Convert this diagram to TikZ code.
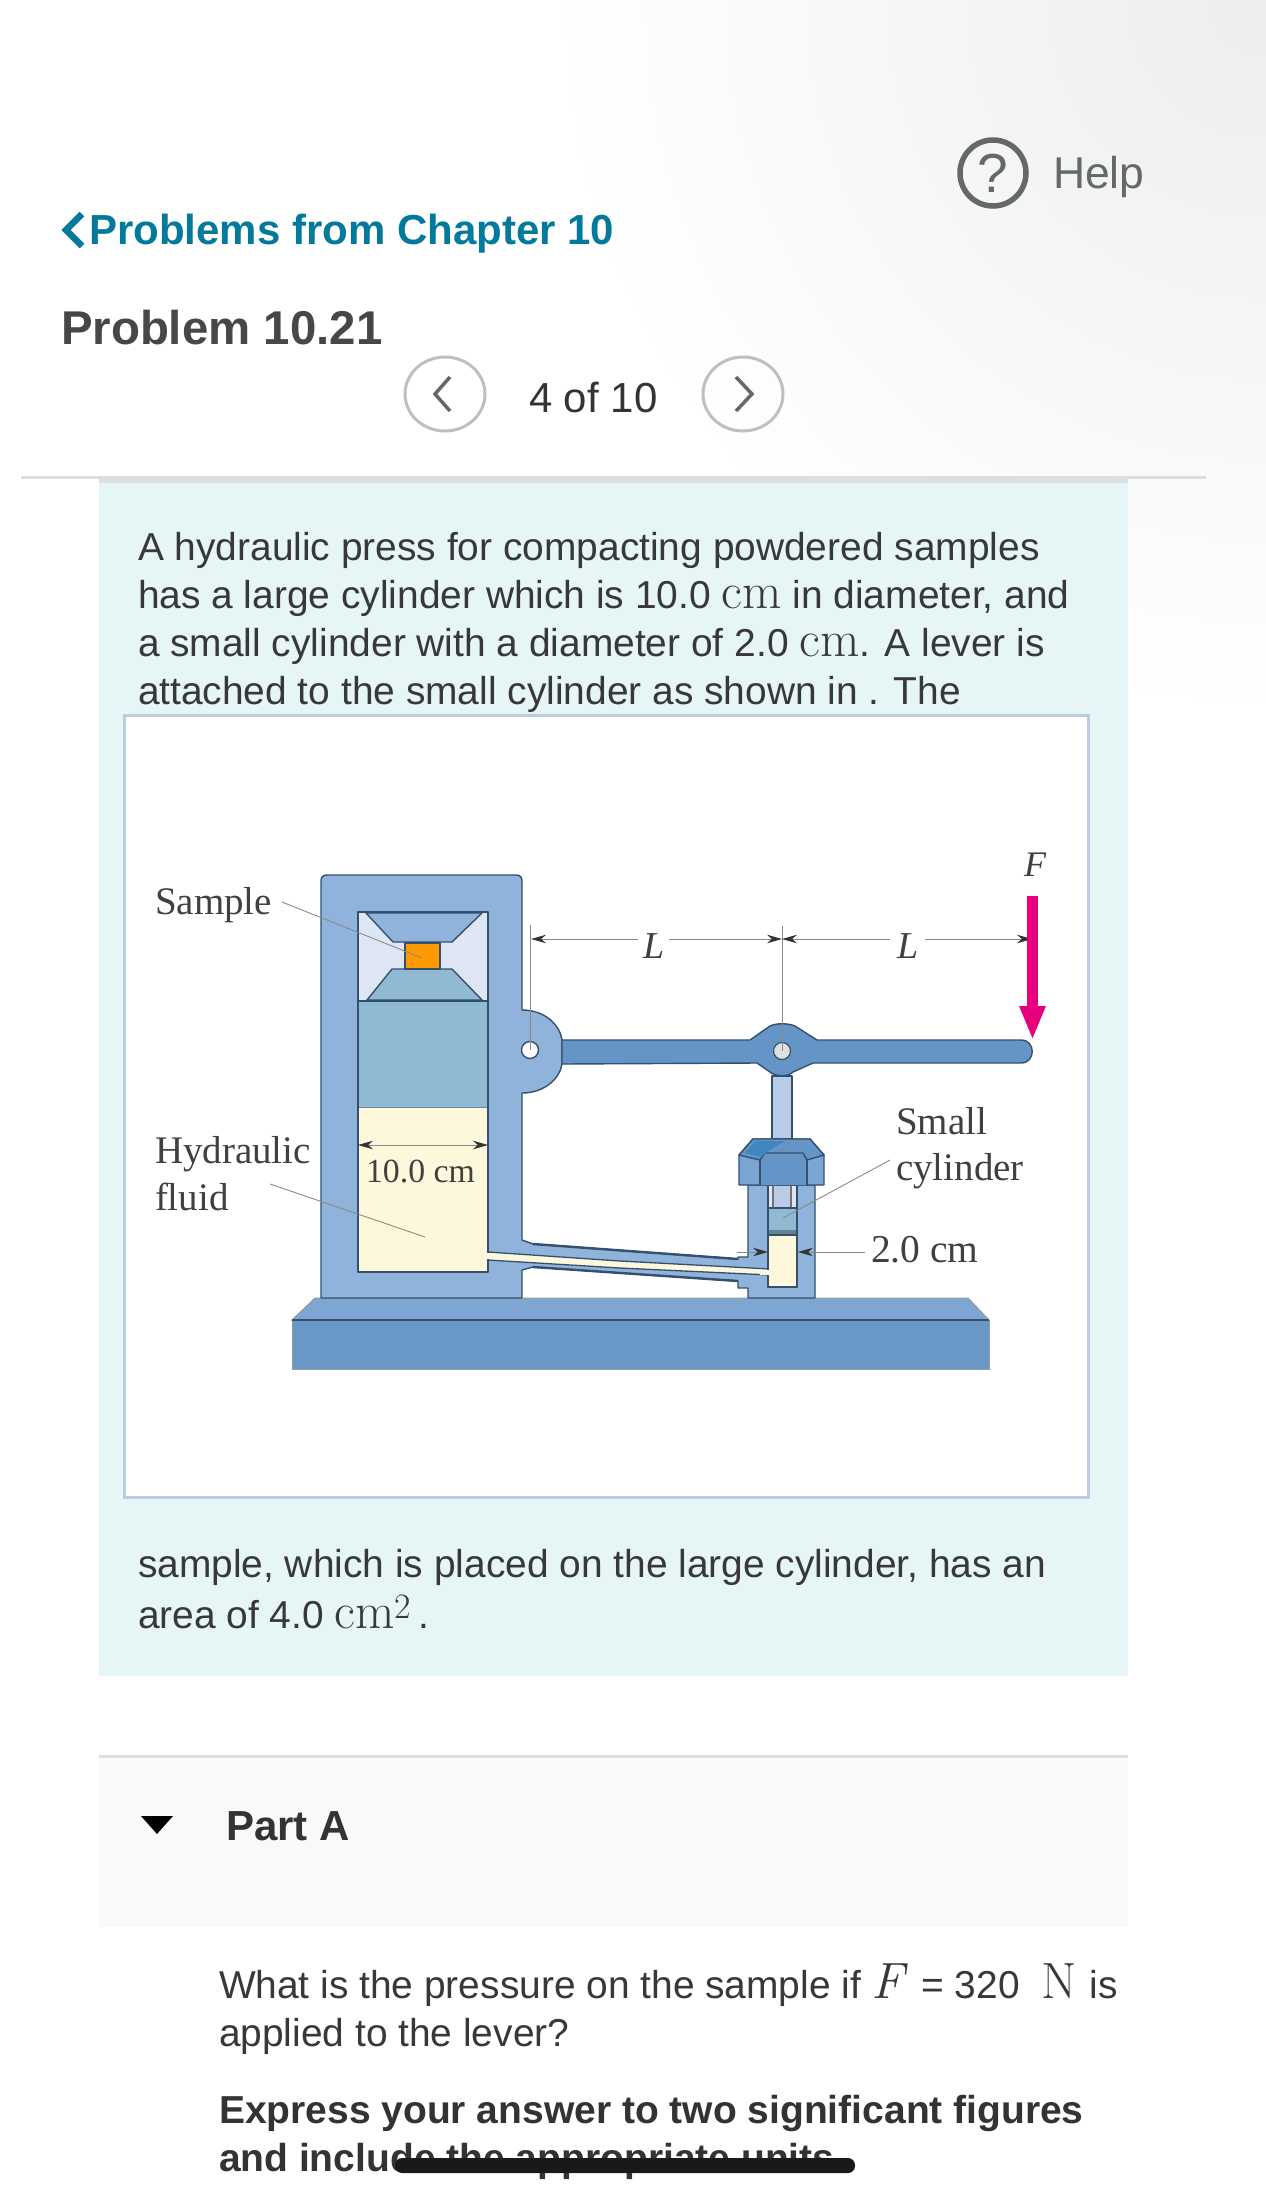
\documentclass[tikz,border=0pt]{standalone}
\usepackage{fontspec}
\usetikzlibrary{arrows.meta,shapes.geometric}
\newfontfamily\sansf{Liberation Sans}
\newfontfamily\serf{Liberation Serif}
\newcommand{\fsz}[1]{\fontsize{#1}{#1}\selectfont}
\newcommand{\lmr}[1]{{\rmfamily\fsz{51}#1}}
\definecolor{panelc}{HTML}{E6F5F5}
\definecolor{rulec}{HTML}{DDDEDF}
\definecolor{framec}{HTML}{8FB3DB}
\definecolor{basec}{HTML}{6A98C6}
\definecolor{basetop}{HTML}{7EA6D2}
\definecolor{leverc}{HTML}{6595C6}
\definecolor{nutside}{HTML}{7BA6D4}
\definecolor{nuttop}{HTML}{3F86BE}
\definecolor{pistonc}{HTML}{8FBAD2}
\definecolor{fluidc}{HTML}{FDF7DC}
\definecolor{palec}{HTML}{DFE6F3}
\definecolor{rodc}{HTML}{B9CBE6}
\definecolor{linec}{HTML}{34506E}
\definecolor{tealc}{HTML}{037A9B}
\definecolor{greyc}{HTML}{63696A}
\definecolor{dimc}{HTML}{8A8A8A}
\definecolor{forcec}{HTML}{E6007E}
\definecolor{imgborder}{HTML}{B9CDE0}
\tikzset{
  txt/.style={anchor=base west,inner sep=0pt,outer sep=0pt,text=black!78,font=\sansf\fsz{38.9}},
  boldtxt/.style={txt,font=\sansf\bfseries\fsz{39},text=black!80},
  lab/.style={anchor=base west,inner sep=0pt,outer sep=0pt,text=black!75,font=\serf\fsz{39}},
  part/.style={draw=linec,line width=1.4pt,line join=round},
  leader/.style={draw=dimc,line width=0.9pt},
  dimline/.style={draw=dimc,line width=1pt},
  dimtip/.style={dimline,-{Stealth[length=15pt,width=8.5pt,color=black!80]}},
  navbtn/.style={draw=black!25,line width=3pt,ellipse,minimum width=80pt,minimum height=74pt,inner sep=0pt},
}
\begin{document}
\begin{tikzpicture}[x=1pt,y=-1pt]
\useasboundingbox (0,0) rectangle (1266,2193);
\fill[white] (0,0) rectangle (1266,2193);
\begin{scope}
\clip (0,0) rectangle (1266,2193);
\shade[inner color=black!7,outer color=white] (1266,0) circle[radius=720];
\end{scope}
% header
\node[txt,font=\sansf\bfseries\fsz{42},text=tealc] (back) at (89,244) {Problems from Chapter 10};
\draw[tealc,line width=6.5pt,line cap=butt] (82,214) -- (66,230) -- (82,246);
\node[boldtxt,font=\sansf\bfseries\fsz{47.4},text=black!72] (ptitle) at (61,344) {Problem 10.21};
\node[txt,font=\sansf\fsz{42},text=black!80] (count) at (529,412) {4 of 10};
\node[navbtn] (prev) at (445,394) {};
\node[navbtn] (next) at (743,394) {};
\draw[greyc,line width=3.5pt] (450,377) -- (435,394) -- (450,411);
\draw[greyc,line width=3.5pt] (736,377) -- (752,394) -- (736,411);
\node[draw=greyc,line width=5.5pt,circle,minimum size=66pt,inner sep=0pt,text=greyc,font=\sansf\fsz{55}] (helpc) at (993,173) {?};
\node[txt,font=\sansf\fsz{44.5},text=greyc] (help) at (1053,188) {Help};
% panel
\fill[panelc] (99,480) rectangle (1128,1676);
\fill[rulec] (21,476) rectangle (1206,479);
\fill[rulec] (99,479) rectangle (1128,483);
\node[txt] (t1) at (138,560) {A hydraulic press for compacting powdered samples};
\node[txt] (t2) at (138,608) {has a large cylinder which is 10.0 \lmr{cm} in diameter, and};
\node[txt] (t3) at (138,656) {a small cylinder with a diameter of 2.0 \lmr{cm}. A lever is};
\node[txt] (t4) at (138,704) {attached to the small cylinder as shown in . The};
\fill[white,draw=imgborder,line width=3pt] (124,715) rectangle (1088,1497);
\node[txt] (t5) at (138,1577) {sample, which is placed on the large cylinder, has an};
\node[txt] (t6) at (138,1628) {area of 4.0 \lmr{cm\textsuperscript{2}}\,.};
% part A
\fill[black!2.5] (99,1756) rectangle (1128,1927);
\fill[rulec] (99,1755) rectangle (1128,1758);
\fill[black] (141,1816) -- (173,1816) -- (157,1834) -- cycle;
\node[boldtxt,font=\sansf\bfseries\fsz{42}] (parta) at (226,1840) {Part A};
\node[txt] (q1) at (219,1998) {What is the pressure on the sample if {\rmfamily\itshape\fsz{51}F}\hspace{6pt} = 320 \ \lmr{N}\hspace{2pt} is};
\node[txt] (q2) at (219,2046) {applied to the lever?};
\node[boldtxt] (q3) at (219,2123) {Express your answer to two significant figures};
\node[boldtxt] (q4) at (219,2171) {and include the appropriate units.};
\fill[black!90,rounded corners=7pt] (395,2158) rectangle (855,2173);
% base
\path[draw=black!40,line width=1pt,fill=basec] (292,1320) rectangle (989,1369);
\path[draw=black!40,line width=1pt,fill=basetop] (292,1320) -- (315,1298) -- (968,1298) -- (989,1320) -- cycle;
\draw[part] (292,1320) -- (989,1320);
% frame with tube and small body
\path[part,fill=framec] (321,1298) -- (321,881) .. controls (321,877) and (323,875) .. (327,875) -- (516,875) .. controls (520,875) and (522,877) .. (522,881)
  -- (522,1010) .. controls (545,1010) and (560,1025) .. (562,1040) -- (562,1064) .. controls (560,1078) and (545,1093) .. (522,1093)
  -- (522,1240) -- (533,1244) -- (738,1259) -- (738,1257) -- (748,1257) -- (748,1185) -- (815,1185) -- (815,1298) -- (748,1298) -- (748,1288) -- (738,1288) -- (738,1281) -- (533,1267) -- (522,1270) -- (522,1298) -- cycle;
\draw[part,line width=2.4pt] (533,1244) -- (738,1259);
\draw[part,line width=2.4pt] (533,1267) -- (738,1281);
\path[part,fill=fluidc,line width=1.3pt] (488,1252) -- (620,1261) -- (770,1269) -- (770,1275) -- (620,1268) -- (488,1260) -- cycle;
% large cylinder
\path[part,fill=palec] (358,912) rectangle (488,1001);
\path[part,fill=framec] (366,913) -- (482,913) -- (452,942) -- (393,942) -- cycle;
\path[part,fill=pistonc] (392,969) -- (452,969) -- (482,1000) -- (367,1000) -- cycle;
\path[fill=pistonc] (358,1001) rectangle (488,1107);
\path[fill=fluidc] (358,1107) rectangle (488,1272);
\draw[linec!70,line width=1pt] (358,1107) -- (488,1107);
\draw[part] (358,1001) -- (488,1001);
\draw[part] (358,1001) -- (358,1272) -- (488,1272) -- (488,1252) (488,1001) -- (488,1252);
\fill[fluidc] (486,1253) rectangle (491,1259);
\path[part,fill=orange!80!yellow] (405,943) rectangle (440,969);
% ear hole
\node[draw=linec,line width=1.4pt,fill=white,circle,minimum size=17pt,inner sep=0pt] (pivotA) at (530,1050) {};
% lever
\path[part,fill=leverc] (562,1040) -- (750,1040) -- (770,1026) .. controls (776,1023) and (788,1023) .. (795,1026) -- (817,1040) -- (1021,1040)
  .. controls (1036,1040) and (1036,1063) .. (1021,1063) -- (813,1063) -- (793,1072) .. controls (788,1077) and (776,1077) .. (770,1072) -- (757,1063) -- (562,1064) -- cycle;
\node[draw=linec,line width=1.2pt,fill=black!12,circle,minimum size=17pt,inner sep=0pt] (pivotB) at (782,1051) {};
% rod
\path[part,fill=rodc] (772,1076) rectangle (792,1139);
% small cylinder
\path[part,fill=palec] (768,1185) rectangle (797,1287);
\fill[rodc] (774,1186) rectangle (790,1208);
\draw[black!55,line width=2pt] (773,1185) -- (773,1208);
\draw[black!55,line width=2pt] (791,1185) -- (791,1208);
\path[part,fill=pistonc] (768,1208) rectangle (797,1235);
\fill[black!30!pistonc] (769,1230) rectangle (796,1235);
\path[part,fill=fluidc] (768,1235) rectangle (797,1287);
\fill[fluidc] (760,1269.5) rectangle (770,1274.5);
% nut
\path[part,fill=nutside] (739,1155) -- (753,1139) -- (810,1139) -- (824,1155) -- (824,1185) -- (739,1185) -- cycle;
\path[fill=leverc] (760,1160) -- (765,1153) -- (803,1153) -- (807,1160) -- (807,1185) -- (760,1185) -- cycle;
\path[part,fill=leverc] (739,1155) -- (753,1139) -- (810,1139) -- (824,1155) -- (807,1160) -- (803,1153) -- (765,1153) -- (760,1160) -- cycle;
\fill[nuttop] (745,1153) -- (755,1141) -- (785,1141) -- (768,1151) -- (761,1157) -- cycle;
\draw[part] (760,1160) -- (760,1185) (807,1160) -- (807,1185);
% leaders
\coordinate (sampleEnd) at (422,958);
\coordinate (sampleStart) at (282,902);
\draw[leader] (sampleStart) -- (sampleEnd);
\coordinate (fluidStart) at (270,1184);
\coordinate (fluidEnd) at (425,1237);
\draw[leader] (fluidStart) -- (fluidEnd);
\coordinate (smallStart) at (890,1160);
\coordinate (smallEnd) at (783,1218);
\draw[leader] (smallStart) -- (smallEnd);
% labels
\node[lab] (sample) at (155,914) {Sample};
\node[lab] (hyd) at (155,1163) {Hydraulic};
\node[lab] (fluid) at (155,1210) {fluid};
\node[lab,font=\serf\fsz{33.8}] (d10) at (366,1182) {10.0 cm};
\node[lab] (small) at (896,1134) {Small};
\node[lab] (cyl) at (896,1180) {cylinder};
\node[lab,font=\serf\fsz{39.5}] (d2) at (871,1262) {2.0 cm};
\node[lab,font=\serf\itshape\fsz{38}] (L1) at (643,958) {L};
\node[lab,font=\serf\itshape\fsz{38}] (L2) at (897,958) {L};
\node[lab,font=\serf\itshape\fsz{36}] (Fl) at (1024,876) {F};
% dimensions
\coordinate (a1) at (531,939); \coordinate (a2) at (782,939); \coordinate (a3) at (1032,939);
\draw[dimline] (530,925) -- (pivotA.center);
\draw[dimline] (782,926) -- (pivotB.center);
\draw[dimtip] (L1.west |- a1) ++(-5,0) -- (a1);
\draw[dimtip] (L1.east |- a1) ++(5,0) -- (a2);
\draw[dimtip] (L2.west |- a1) ++(-7,0) -- (a2);
\draw[dimtip] (L2.east |- a1) ++(7,0) -- (a3);
\coordinate (c1) at (358,1145); \coordinate (c2) at (488,1145); \coordinate (cm) at (423,1145);
\draw[dimtip] (cm) -- (c1);
\draw[dimtip] (cm) -- (c2);
\coordinate (e1) at (768,1252); \coordinate (e2) at (798,1252);
\draw[dimtip] (737,1252) -- (e1);
\draw[dimtip] (865,1252) -- (e2);
% force
\coordinate (Ftop) at (1032.5,896); \coordinate (Ftip) at (1032.5,1040);
\draw[-{Triangle[length=34pt,width=24pt,color=forcec]},forcec,line width=11pt] (Ftop) -- (Ftip);
\end{tikzpicture}
\end{document}
